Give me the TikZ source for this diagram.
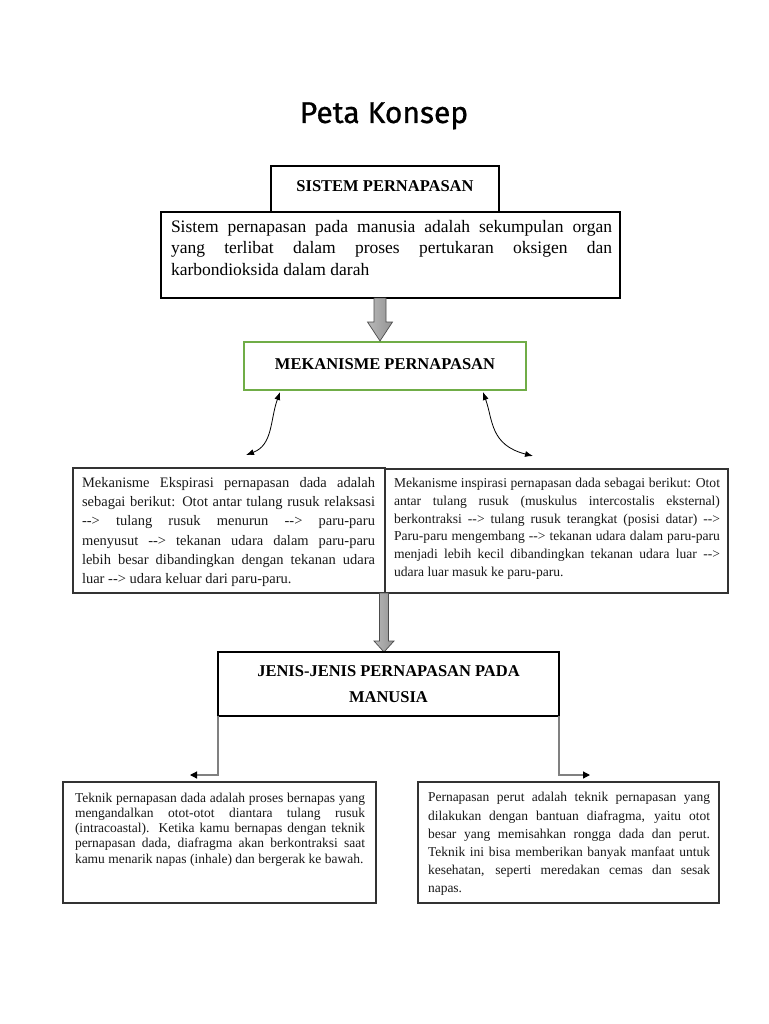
\documentclass[tikz,border=0pt]{standalone}
\usepackage{fontspec}
\setmainfont{Liberation Serif}
\newfontfamily\titlefont{Fira Sans}[FakeBold=0.8]
\usetikzlibrary{arrows.meta,calc}
\definecolor{boxgreen}{RGB}{112,173,71}
\definecolor{elbowgray}{RGB}{128,128,128}
\newcommand\arw{-{}->}
\newcommand\jl[2]{\makebox[#1pt][s]{#2}\\}
\newcommand\fatarrow[5]{%
  \draw[fatarrowstyle] ($(#1)+(-#4,0)$) -- ($(#1)+(#4,0)$) -- ($(#1)+(#4,#2)$) -- ($(#1)+(#5,#2)$) -- ($(#1)+(0,#3)$) -- ($(#1)+(-#5,#2)$) -- ($(#1)+(-#4,#2)$) -- cycle;}
\begin{document}
\begin{tikzpicture}[x=1pt,y=-1pt,
  every node/.style={inner sep=0pt,outer sep=0pt},
  headbox/.style={draw=black,line width=1.4pt,fill=white,anchor=north west,
    font=\fontsize{16.5}{26}\selectfont\bfseries,align=center},
  onehead/.style={text height=10pt,text depth=4pt},
  textbox/.style={draw=black!80,line width=1.1pt,fill=white,anchor=north west},
  bodytext/.style={anchor=north west,align=left,text=black!90},
  fatarrowstyle/.style={draw=black!70,line width=0.7pt,left color=gray!55,right color=gray!85},
  elbow/.style={draw=elbowgray,line width=1.2pt,-{Triangle[length=7pt,width=7pt,color=black]}},
  curv/.style={draw=black,line width=0.8pt,{Latex[length=8pt,width=6pt]}-{Latex[length=8pt,width=6pt]}}
]
\useasboundingbox (0,0) rectangle (768,1024);
\fill[white] (0,0) rectangle (768,1024);

% title
\node[font=\titlefont\fontsize{30}{36}\selectfont,anchor=base] (title) at (384,123) {Peta Konsep};

% top boxes
\node[headbox,onehead,minimum width=228pt,minimum height=46pt] (box1) at (271,166) {SISTEM PERNAPASAN};
\node[headbox,line width=1.3pt,minimum width=459pt,minimum height=86pt] (box2) at (161,212) {};
\node[bodytext,text=black,font=\fontsize{17.5}{21.7}\selectfont] (t2) at (171,220)
  {\jl{441}{Sistem pernapasan pada manusia adalah sekumpulan organ}%
   \jl{441}{yang terlibat dalam proses pertukaran oksigen dan}%
   karbondioksida dalam darah};

% mekanisme
\node[headbox,onehead,draw=boxgreen,line width=1.1pt,minimum width=282pt,minimum height=48pt] (box3) at (244,342) {MEKANISME PERNAPASAN};
\coordinate (fa1) at (380,298);
\fatarrow{fa1}{24}{43}{6}{12.5}

% curved arrows
\coordinate (ca1) at (280,392);
\coordinate (cb1) at (246,455);
\coordinate (ca2) at (483,392);
\coordinate (cb2) at (533,456);
\draw[curv] (ca1) .. controls (270,420) and (273,445) .. (cb1);
\draw[curv] (ca2) .. controls (493,420) and (490,445) .. (cb2);

% middle boxes
\node[textbox,minimum width=312pt,minimum height=125pt] (box4) at (73,468) {};
\node[textbox,minimum width=343pt,minimum height=124pt] (box5) at (385,469) {};
\node[bodytext,font=\fontsize{14.5}{19.2}\selectfont] (t4) at (82,477.5)
  {\jl{293}{Mekanisme Ekspirasi pernapasan dada adalah}%
   \jl{293}{sebagai berikut: Otot antar tulang rusuk relaksasi}%
   \jl{293}{\arw{} tulang rusuk menurun \arw{} paru-paru}%
   \jl{293}{menyusut \arw{} tekanan udara dalam paru-paru}%
   \jl{293}{lebih besar dibandingkan dengan tekanan udara}%
   luar \arw{} udara keluar dari paru-paru.};
\node[bodytext,font=\fontsize{13.6}{17.8}\selectfont] (t5) at (394,478)
  {\jl{326}{Mekanisme inspirasi pernapasan dada sebagai berikut: Otot}%
   \jl{326}{antar tulang rusuk (muskulus intercostalis eksternal)}%
   \jl{326}{berkontraksi \arw{} tulang rusuk terangkat (posisi datar) \arw}%
   \jl{326}{Paru-paru mengembang \arw{} tekanan udara dalam paru-paru}%
   \jl{326}{menjadi lebih kecil dibandingkan tekanan udara luar \arw}%
   udara luar masuk ke paru-paru.};

% jenis-jenis
\coordinate (fa2) at (384,593);
\fatarrow{fa2}{48}{59}{4.5}{10}
\node[headbox,minimum width=341pt,minimum height=64pt] (box6) at (218,652) {JENIS-JENIS PERNAPASAN PADA\\MANUSIA};

% elbows
\coordinate (el1) at (190,775);
\coordinate (el2) at (590,775);
\draw[elbow] (box6.south west) |- (el1);
\draw[elbow] (box6.south east) |- (el2);

% bottom boxes
\node[textbox,line width=1.2pt,minimum width=313pt,minimum height=121pt] (box7) at (63,782) {};
\node[textbox,line width=1.2pt,minimum width=301pt,minimum height=121pt] (box8) at (418,782) {};
\node[bodytext,font=\fontsize{13.5}{15.1}\selectfont] (t7) at (75,793.3)
  {\jl{290}{Teknik pernapasan dada adalah proses bernapas yang}%
   \jl{290}{mengandalkan otot-otot diantara tulang rusuk}%
   \jl{290}{(intracoastal). Ketika kamu bernapas dengan teknik}%
   \jl{290}{pernapasan dada, diafragma akan berkontraksi saat}%
   kamu menarik napas (inhale) dan bergerak ke bawah.};
\node[bodytext,font=\fontsize{13.5}{18.2}\selectfont] (t8) at (428,792.5)
  {\jl{282}{Pernapasan perut adalah teknik pernapasan yang}%
   \jl{282}{dilakukan dengan bantuan diafragma, yaitu otot}%
   \jl{282}{besar yang memisahkan rongga dada dan perut.}%
   \jl{282}{Teknik ini bisa memberikan banyak manfaat untuk}%
   \jl{282}{kesehatan, seperti meredakan cemas dan sesak}%
   napas.};
\end{tikzpicture}
\end{document}
